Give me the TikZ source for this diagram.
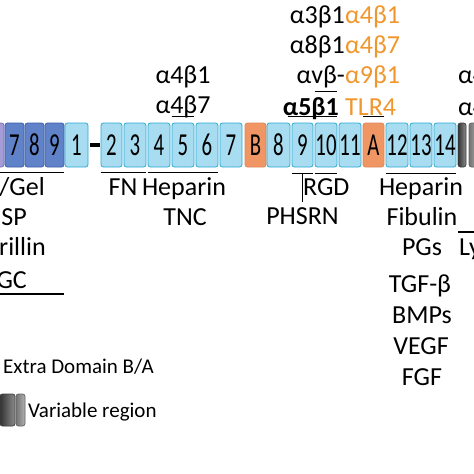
\documentclass[tikz,border=0pt]{standalone}
\usepackage{fontspec}
\setmainfont{Carlito}
\usepackage{graphicx}
\definecolor{fnfill}{RGB}{168,220,240}
\definecolor{fnline}{RGB}{40,170,215}
\definecolor{edfill}{RGB}{240,150,100}
\definecolor{edline}{RGB}{225,135,85}
\definecolor{tIfill}{RGB}{95,130,200}
\definecolor{tIline}{RGB}{60,95,170}
\definecolor{lavfill}{RGB}{165,155,215}
\definecolor{lavline}{RGB}{120,110,185}
\definecolor{intorange}{RGB}{240,150,45}
\newcommand{\boxnum}[1]{\scalebox{0.65}[1]{#1}}
\newcommand{\lblfont}{\fontsize{26}{26}\selectfont}
\newcommand{\legfont}{\fontsize{21}{21}\selectfont}

\begin{document}
\begin{tikzpicture}[x=1pt,y=-1pt,
    dom/.style={draw=fnline, fill=fnfill, line width=0.8pt, rounded corners=2.5pt,
      minimum height=44pt, inner sep=0pt, font=\fontsize{32}{32}\selectfont},
    ed/.style={dom, draw=edline, fill=edfill},
    tI/.style={dom, draw=tIline, fill=tIfill},
    lav/.style={dom, draw=lavline, fill=lavfill},
    vr/.style={dom, draw=black!75, left color=black!80, right color=black!45},
    vrb/.style={dom, draw=black!60, left color=black!55, right color=black!30},
    lbl/.style={font=\lblfont, inner sep=0pt},
    bar/.style={line width=1.4pt}]
  \useasboundingbox (0,0) rectangle (474,474);
  \clip (0,0) rectangle (474,474);

  % domain row
  \foreach \cx/\w/\t/\s/\n in {-3/14/{}/lav/t6, 14.5/19/7/tI/t7, 34.5/19/8/tI/t8,
      54.5/19/9/tI/t9, 76.5/23/1/dom/f1, 111.5/21/2/dom/f2, 135/22/3/dom/f3,
      159/22/4/dom/f4, 183/22/5/dom/f5, 207/22/6/dom/f6, 231/22/7/dom/f7,
      255.5/21/B/ed/edb, 278.5/23/8/dom/f8, 302.5/21/9/dom/f9, 326/22/10/dom/f10,
      350/22/11/dom/f11, 373.5/21/A/ed/eda, 397/22/12/dom/f12, 421/22/13/dom/f13,
      445/22/14/dom/f14, 462/8/{}/vr/v1, 474/10/{}/vrb/v2}
    \node[\s, minimum width=\w pt] (\n) at (\cx,145) {\boxnum{\t}};
  \draw[line width=3.5pt, shorten <=2pt, shorten >=1pt] (f1) -- (f2);

  % integrins above
  \node[lbl, anchor=base] (l41) at (183,83) {α4β1};
  \node[lbl, anchor=base] (l47) at (183,113) {α4β7};
  \node[lbl, anchor=base east] (a31) at (345,23) {α3β1};
  \node[lbl, anchor=base west, text=intorange] (o41) at (345,23) {α4β1};
  \node[lbl, anchor=base east] (a81) at (345,53) {α8β1};
  \node[lbl, anchor=base west, text=intorange] (o47) at (345,53) {α4β7};
  \node[lbl, anchor=base east] (avb) at (345,83) {αvβ-};
  \node[lbl, anchor=base west, text=intorange] (o91) at (345,83) {α9β1};
  \node[lbl, anchor=base east, font=\lblfont\bfseries] (a51) at (339,115) {α5β1};
  \node[lbl, anchor=base west, text=intorange] (tlr) at (345,115) {TLR4};
  \node[lbl, anchor=base west] (r41) at (458,83) {α4β1};
  \node[lbl, anchor=base west] (r47) at (458,115) {α4β7};
  \draw[bar] ([yshift=6pt]f5.north west) -- ([yshift=6pt]f5.north east);
  \draw[bar] ([yshift=6pt,xshift=-4pt]f9.north west) -- ([yshift=6pt]f10.north east);
  \draw[bar] ([yshift=31pt]f10.north west) -- ([yshift=31pt]f10.north east);
  \draw[bar] ([yshift=6pt]eda.north west) -- ([yshift=6pt]eda.north east);

  % binding partners below
  \draw[bar] ([yshift=-5pt]t6.south west) -- ([yshift=-5pt]t9.south east);
  \node[lbl, anchor=base east] (gel) at (45,195) {/Gel};
  \node[lbl, anchor=base east] (sp) at (27,225) {SP};
  \node[lbl, anchor=base east] (rill) at (46,255) {rillin};
  \node[lbl, anchor=base east] (gc) at (27,288) {GC};
  \draw[bar] (-10,294) -- (64,294);

  \draw[bar] ([yshift=-5pt]f2.south west) -- ([yshift=-5pt]f3.south east);
  \draw[bar] ([yshift=-5pt]f4.south west) -- ([yshift=-5pt]f6.south east);
  \node[lbl, anchor=base] (fn) at (123,195) {FN};
  \node[lbl, anchor=base] (hep) at (184,195) {Heparin};
  \node[lbl, anchor=base] (tnc) at (185,225) {TNC};

  \draw[bar] ([yshift=-6pt]f9.south west) -- ([yshift=-6pt]f9.south east);
  \draw[bar] ([yshift=-6pt]f10.south west) -- ([yshift=-6pt]f10.south east);
  \draw[line width=0.9pt] ([yshift=-6pt]f9.south) -- ++(0,29);
  \node[lbl, anchor=base west] (rgd) at (303,195) {RGD};
  \node[lbl, anchor=base] (phs) at (302.5,224) {PHSRN};

  \draw[bar] ([yshift=-6pt]f12.south west) -- ([yshift=-6pt]f14.south east);
  \node[lbl, anchor=base] (hep2) at (421,195) {Heparin};
  \node[lbl, anchor=base] (fib) at (422,225) {Fibulin};
  \node[lbl, anchor=base] (pgs) at (422,255) {PGs};
  \node[lbl, anchor=base] (tgf) at (420,292) {TGF-β};
  \node[lbl, anchor=base] (bmp) at (422,323) {BMPs};
  \node[lbl, anchor=base] (vegf) at (421,354) {VEGF};
  \node[lbl, anchor=base] (fgf) at (422,385) {FGF};
  \draw[bar] (458,232) -- (480,232);
  \node[lbl, anchor=base west] (ly) at (459,255) {Ly};

  % legend
  \node[font=\legfont, inner sep=0pt, anchor=base west] (edleg) at (3,373) {Extra Domain B/A};
  \node[vr, minimum width=15pt, minimum height=32pt] (lv1) at (7.5,410) {};
  \node[vrb, minimum width=9pt, minimum height=32pt] (lv2) at (20.5,410) {};
  \node[font=\legfont, inner sep=0pt, anchor=base west] (vrleg) at (28,417) {Variable region};
\end{tikzpicture}
\end{document}
